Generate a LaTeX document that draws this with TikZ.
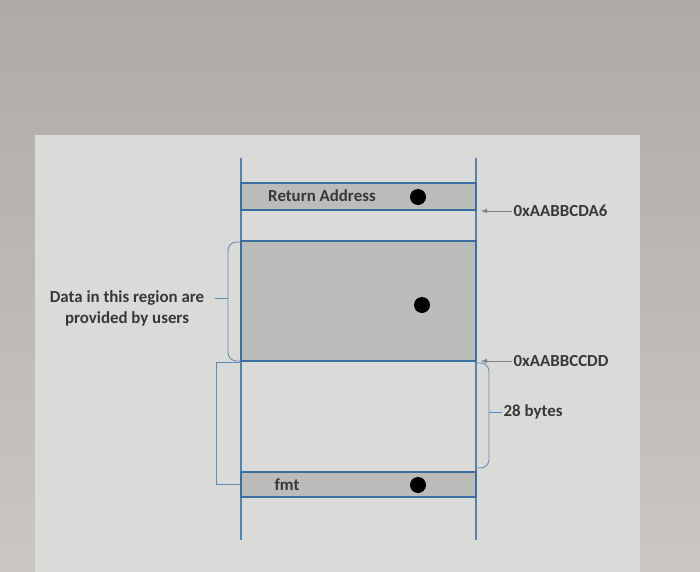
\documentclass[tikz,border=0pt]{standalone}
\usepackage{fontspec}
\setmainfont{Carlito}
\usepackage{tikz}
\usetikzlibrary{calc}
\usetikzlibrary{positioning}

\definecolor{stackblue}{HTML}{3A6E9E}
\definecolor{cellgray}{HTML}{BBBBB9}
\definecolor{inkgray}{HTML}{383838}
\definecolor{photogray}{HTML}{BDB9B4}
\definecolor{panelgray}{HTML}{DADAD8}

\begin{document}
\begin{tikzpicture}[x=0.025cm,y=-0.025cm,
  lbl/.style={font=\fontsize{12}{15}\selectfont\bfseries,text=inkgray,inner sep=1pt},
  cell/.style={draw=stackblue,line width=1.2pt,fill=cellgray},
  dot/.style={circle,fill=black,minimum size=0.4cm,inner sep=0pt},
  wire/.style={stackblue!80,line width=0.6pt},
  addr/.style={gray,line width=0.5pt,-latex}]

\useasboundingbox (0,0) rectangle (700,572);

% background (photo of a page)
\fill[top color=photogray!92!black,bottom color=photogray!80!white] (0,0) rectangle (700,572);
\fill[panelgray] (35,135) rectangle (640,572);

% Set stack dimensions
\def\sl{241} %<- left side of stack
\def\sr{476} %<- right side of stack

% stack sides
\draw[stackblue!85,line width=0.8pt] (\sl,158) -- (\sl,540);
\draw[stackblue!85,line width=0.8pt] (\sr,158) -- (\sr,540);

% Return address
\draw[cell] (\sl,183) rectangle (\sr,210);
\node[lbl] (ret) at (322,196) {Return Address};
\node[dot] (dotA) at (418,197) {};

% user data
\draw[cell] (\sl,241) rectangle (\sr,361);
\node[dot] (dotB) at (422,305) {};

% fmt
\draw[cell] (\sl,472) rectangle (\sr,497);
\node[lbl] (fmt) at (287,485) {fmt};
\node[dot] (dotC) at (418,485) {};

% addresses
\coordinate (RetBottom) at (481,211);
\coordinate (DataBottom) at (481,361);
\node[lbl,anchor=west] (addrA) at (512,211) {0xAABBCDA6};
\node[lbl,anchor=west] (addrB) at (512,361) {0xAABBCCDD};
\draw[addr] (addrA.west) -- (RetBottom);
\draw[addr] (addrB.west) -- (DataBottom);

% left brace
\node[lbl,align=center] (users) at (127,308) {Data in this region are\\provided by users};
\coordinate (BraceTip) at (215,298);
\draw[wire,rounded corners=6] (\sl,242) -| (228,298) |- (\sl,361);
\draw[wire] (228,298) -- (BraceTip);

% right brace
\node[lbl,anchor=west] (bytes) at (502,412) {28 bytes};
\draw[wire,rounded corners=6] (\sr,363) -| (489,412) |- (\sr,468);
\draw[wire] (489,412) -- (bytes.west);

% fmt points to the data
\draw[wire] (\sl,362) -- (216,362) -- (216,484) -- (\sl,484);

\end{tikzpicture}
\end{document}
